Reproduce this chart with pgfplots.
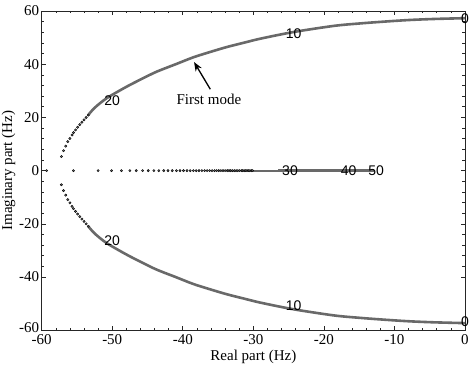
\documentclass[border=0pt]{standalone}
\usepackage{pgfplots}
\pgfplotsset{compat=1.18}
\usepackage{fontspec}
\setmainfont{Liberation Serif}
\newfontfamily\arialfont{Liberation Sans}
\usetikzlibrary{arrows.meta}
\definecolor{dotgray}{RGB}{105,105,105}
\begin{document}
\begin{tikzpicture}[font=\fontsize{15}{18}\selectfont]
\begin{axis}[
  scale only axis,
  width=423.3pt, height=319.3pt,
  xmin=-60, xmax=0, ymin=-60, ymax=60,
  xtick={-60,-50,...,0}, ytick={-40,-20,...,60},
  extra y ticks={-60},
  extra y tick style={yticklabel style={yshift=3pt}},
  minor x tick num=4, minor y tick num=4,
  tick align=inside,
  major tick length=4pt, minor tick length=2.5pt,
  axis line style={black!85, line width=0.8pt},
  every tick/.style={black!85, line width=0.6pt},
  /pgf/number format/assume math mode=true,
  tick label style={font=\fontsize{15}{18}\selectfont},
  xlabel={Real part (Hz)}, ylabel={Imaginary part (Hz)},
  xlabel style={yshift=1pt},
  ylabel style={yshift=-3pt},
  xticklabel style={yshift=-0.5pt},
  yticklabel style={xshift=1pt},
  clip=false,
]
% upper branch, sparse tip (marks)
\addplot[only marks, mark=*, mark size=1.2pt, draw=none, fill=dotgray] coordinates {
(-57.2,5.3) (-56.9,7.5) (-56.6,9.2) (-56.3,10.9) (-56.0,12.1) (-55.7,13.4)
(-55.5,14.3) (-55.2,15.3) (-54.9,16.3) (-54.6,17.3) (-54.3,18.2) (-54.0,19.1)
(-53.7,20.0) (-53.4,20.9)
};
% upper branch, dense part
\addplot[dotgray, line width=2.6pt, smooth] coordinates {
(-53.4,20.9) (-52.5,23.6) (-50.8,27.2) (-48.0,31.5) (-45.8,34.5) (-43.7,37.2)
(-41.0,40.0) (-38.5,42.6) (-36.0,44.7) (-33.7,46.5) (-31.3,48.1) (-29.0,49.6)
(-24.3,52.1) (-18.6,54.4) (-15.0,55.3) (-11.5,56.0) (-8.0,56.6) (-4.4,57.0) (0,57.3)
};
% lower branch, sparse tip (marks)
\addplot[only marks, mark=*, mark size=1.2pt, draw=none, fill=dotgray] coordinates {
(-57.2,-5.3) (-56.9,-7.5) (-56.6,-9.2) (-56.3,-10.9) (-56.0,-12.1) (-55.7,-13.4)
(-55.5,-14.3) (-55.2,-15.3) (-54.9,-16.3) (-54.6,-17.3) (-54.3,-18.2) (-54.0,-19.1)
(-53.7,-20.0) (-53.4,-20.9)
};
% lower branch, dense part
\addplot[dotgray, line width=2.6pt, smooth] coordinates {
(-53.4,-20.9) (-52.5,-23.6) (-50.8,-27.2) (-48.0,-31.5) (-45.8,-34.5) (-43.7,-37.2)
(-41.0,-40.0) (-38.5,-42.6) (-36.0,-44.7) (-33.7,-46.5) (-31.3,-48.1) (-29.0,-49.6)
(-24.3,-52.1) (-18.6,-54.4) (-15.0,-55.3) (-11.5,-56.0) (-8.0,-56.6) (-4.4,-57.0) (0,-57.3)
};
% real axis, sparse part (marks)
\addplot[only marks, mark=*, mark size=1.15pt, draw=none, fill=dotgray] coordinates {
(-59.3,0) (-55.5,0) (-52.0,0) (-50.1,0) (-48.7,0) (-47.5,0) (-46.6,0) (-45.7,0)
(-44.9,0) (-44.1,0) (-43.4,0) (-42.7,0) (-42.1,0) (-41.5,0) (-40.9,0) (-40.4,0)
(-39.9,0) (-39.4,0) (-38.95,0) (-38.5,0) (-38.1,0) (-37.7,0) (-37.3,0) (-36.9,0)
(-36.55,0) (-36.2,0) (-35.85,0) (-35.5,0) (-35.2,0) (-34.9,0) (-34.6,0) (-34.3,0)
(-34.0,0) (-33.7,0) (-33.45,0) (-33.2,0) (-32.95,0) (-32.7,0) (-32.45,0) (-32.2,0)
(-31.95,0) (-31.7,0) (-31.5,0) (-31.3,0) (-31.1,0) (-30.9,0) (-30.7,0) (-30.5,0)
(-30.3,0) (-30.1,0)
};
% real axis, dense part
\addplot[dotgray, line width=1.8pt] coordinates {(-30.1,0) (-26.5,0)};
\addplot[dotgray, line width=2.6pt] coordinates {(-26.5,0) (-12.9,0)};
% gain labels
\node[font=\arialfont\fontsize{14}{14}\selectfont, inner sep=0pt] at (axis cs:0,57.2) {0};
\node[font=\arialfont\fontsize{14}{14}\selectfont, inner sep=0pt] at (axis cs:-24.3,51.3) {10};
\node[font=\arialfont\fontsize{14}{14}\selectfont, inner sep=0pt] at (axis cs:-50.0,26.2) {20};
\node[font=\arialfont\fontsize{14}{14}\selectfont, inner sep=0pt] at (axis cs:-50.0,-26.2) {20};
\node[font=\arialfont\fontsize{14}{14}\selectfont, inner sep=0pt] at (axis cs:-24.3,-50.8) {10};
\node[font=\arialfont\fontsize{14}{14}\selectfont, inner sep=0pt] at (axis cs:0,-56.8) {0};
\node[font=\arialfont\fontsize{14}{14}\selectfont, inner sep=0pt] at (axis cs:-24.8,0) {30};
\node[font=\arialfont\fontsize{14}{14}\selectfont, inner sep=0pt] at (axis cs:-16.5,0) {40};
\node[font=\arialfont\fontsize{14}{14}\selectfont, inner sep=0pt] at (axis cs:-12.6,0) {50};
% annotation
\node[inner sep=0pt] at (axis cs:-36.3,26.8) {First mode};
\draw[-{Stealth[length=9pt,width=7pt]}, line width=1.3pt] (axis cs:-36.1,30.6) -- (axis cs:-38.4,40.8);
\end{axis}
\pgfresetboundingbox
\path (-41.7pt,-39pt) rectangle (432.3pt,330.3pt);
\end{tikzpicture}
\end{document}
